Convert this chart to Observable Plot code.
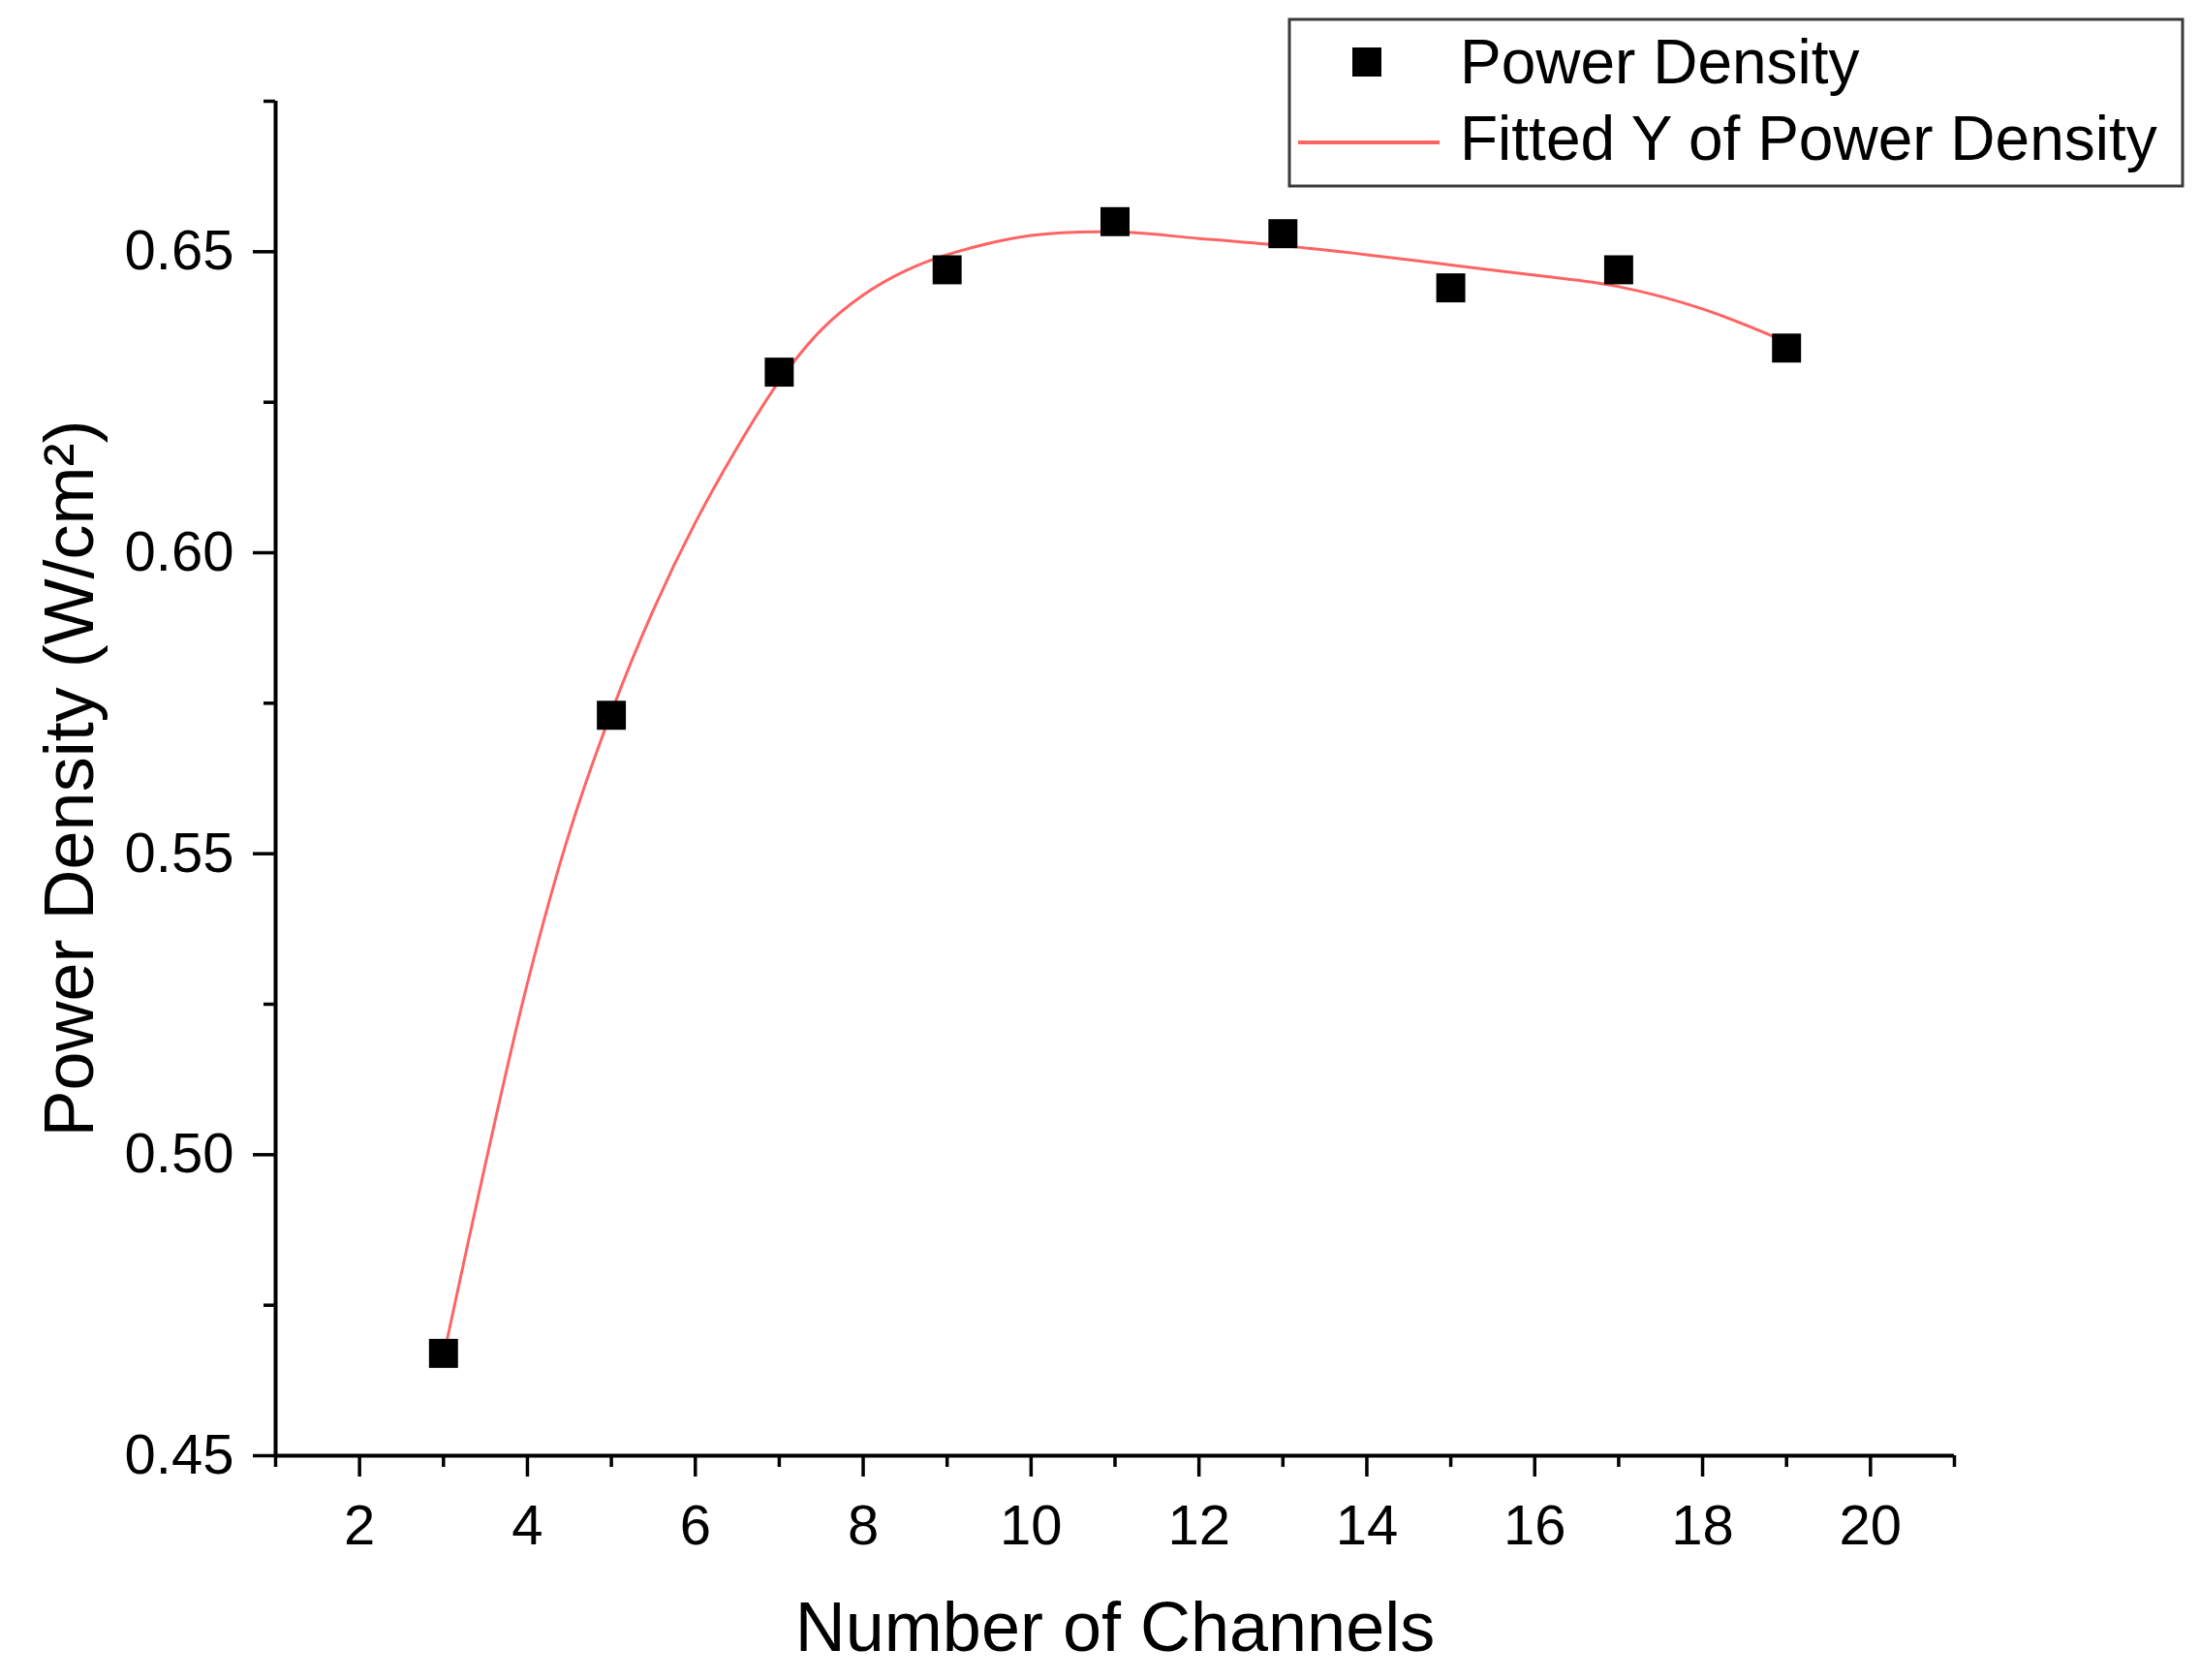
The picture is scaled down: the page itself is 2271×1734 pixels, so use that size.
<!DOCTYPE html>
<html>
<head>
<meta charset="utf-8">
<script src="https://cdn.jsdelivr.net/npm/d3@7"></script>
<script src="https://cdn.jsdelivr.net/npm/@observablehq/plot@0.6"></script>
<style>
  html, body { margin: 0; padding: 0; background: #ffffff; overflow: hidden; }
  #chart { position: relative; width: 2271px; height: 1734px; }
</style>
</head>
<body>
<div id="chart"></div>
<script>
// Measured points
const channels = [3, 5, 7, 9, 11, 13, 15, 17, 19];
const powerDensity = [0.467, 0.573, 0.630, 0.647, 0.655, 0.653, 0.644, 0.647, 0.634];

// Fitted curve
const fitX = [3, 3.5, 4, 4.5, 5, 5.5, 6, 6.5, 7, 7.5, 8, 8.5, 9, 10, 11, 12, 13, 14, 15, 16, 17, 18, 19];
const fitY = [0.4665, 0.4985, 0.5285, 0.5535, 0.5735, 0.5905, 0.6050, 0.6175, 0.6285, 0.6370, 0.6428, 0.6468, 0.6495, 0.6527, 0.6533, 0.6522, 0.6510, 0.6495, 0.6478, 0.6461, 0.6442, 0.6405, 0.6350];

// Axis ticks
const xMajor = [2, 4, 6, 8, 10, 12, 14, 16, 18, 20];
const xMinor = [1, 3, 5, 7, 9, 11, 13, 15, 17, 19, 21];
const yMajor = [0.45, 0.50, 0.55, 0.60, 0.65];
const yMinor = [0.475, 0.525, 0.575, 0.625, 0.675];

const xLabel = "Number of Channels";
const yLabel = "Power Density (W/cm²)";
const legendLabels = ["Power Density", "Fitted Y of Power Density"];

const points = channels.map((x, i) => ({x, y: powerDensity[i]}));
const fit = fitX.map((x, i) => ({x, y: fitY[i]}));

const fitColor = "#ff6464";
const font = "'Liberation Sans', Arial, Helvetica, sans-serif";

const svg = Plot.plot({
  width: 2271,
  height: 1734,
  marginLeft: 284,
  marginRight: 254,
  marginTop: 104,
  marginBottom: 232,
  style: {fontFamily: font, background: "#ffffff", color: "#000000"},
  x: {domain: [1, 21]},
  y: {domain: [0.45, 0.675]},
  marks: [
    Plot.axisX(xMajor, {tickSize: 22, tickPadding: 28, fontSize: 58, strokeWidth: 3.5, label: null, tickFormat: d => String(d)}),
    Plot.axisX(xMinor, {tickSize: 12, strokeWidth: 3.5, label: null, tickFormat: () => ""}),
    Plot.axisY(yMajor, {tickSize: 23, tickPadding: 20, fontSize: 58, strokeWidth: 3.5, label: null, tickFormat: d3.format(".2f")}),
    Plot.axisY(yMinor, {tickSize: 12, strokeWidth: 3.5, label: null, tickFormat: () => ""}),
    Plot.ruleX([1], {stroke: "#000", strokeWidth: 4}),
    Plot.ruleY([0.45], {stroke: "#000", strokeWidth: 4}),
    Plot.line(fit, {x: "x", y: "y", curve: "catmull-rom", stroke: fitColor, strokeWidth: 3}),
    Plot.dot(points, {x: "x", y: "y", symbol: "square", r: 16.9, fill: "#000", stroke: "none"}),
    Plot.text([xLabel], {text: d => d, frameAnchor: "bottom", textAnchor: "middle", dy: 201, fontSize: 72, fill: "#000"}),
    Plot.text([yLabel], {text: d => d, frameAnchor: "left", textAnchor: "middle", dx: -212, rotate: -90, fontSize: 72, fill: "#000"})
  ]
});

// Legend box (top right)
const g = d3.select(svg).append("g").attr("font-family", font).attr("text-anchor", "start");
g.append("rect").attr("x", 1331).attr("y", 20).attr("width", 922).attr("height", 172)
  .attr("fill", "#ffffff").attr("stroke", "#3a3a3a").attr("stroke-width", 3);
g.append("rect").attr("x", 1396).attr("y", 49).attr("width", 30).attr("height", 30).attr("fill", "#000");
g.append("text").attr("x", 1507).attr("y", 86).attr("font-size", 64).attr("fill", "#000").text(legendLabels[0]);
g.append("line").attr("x1", 1340).attr("x2", 1486).attr("y1", 147).attr("y2", 147)
  .attr("stroke", fitColor).attr("stroke-width", 4);
g.append("text").attr("x", 1507).attr("y", 165).attr("font-size", 64).attr("fill", "#000").text(legendLabels[1]);

document.getElementById("chart").appendChild(svg);
</script>
</body>
</html>
